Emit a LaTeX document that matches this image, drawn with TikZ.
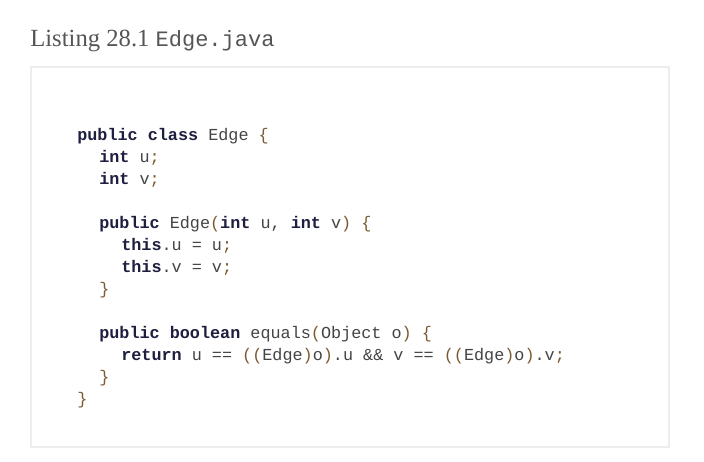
\documentclass[tikz,border=0pt]{standalone}
\usepackage{fontspec}
\setmainfont{Liberation Serif}
\setmonofont{Liberation Mono}
\definecolor{kw}{HTML}{1E1E40}
\definecolor{tx}{HTML}{444444}
\definecolor{pn}{HTML}{7A5A30}
\definecolor{ttl}{HTML}{555555}
\newcommand{\KW}[1]{\textbf{\textcolor{kw}{#1}}}
\newcommand{\PN}[1]{\textcolor{pn}{#1}}
\begin{document}
\begin{tikzpicture}[x=0.75pt,y=-0.75pt,
  code/.style={anchor=base west,inner sep=0pt,font=\ttfamily\fontsize{12.6}{14}\selectfont,text=tx}]
\useasboundingbox (0,0) rectangle (704,461);
\node[anchor=base west,inner sep=0pt,text=ttl] (title) at (30,46)
  {\fontsize{18.5}{21}\selectfont Listing 28.1 {\ttfamily\fontsize{16.5}{20}\selectfont Edge.java}};
\draw[line width=1.5pt,draw=black!7,fill=white] (31,67) rectangle (669,447);
\node[code] (l1) at (77,140) {\KW{public} \KW{class} Edge \PN{\{}};
\node[code] (l2) at (99,162) {\KW{int} u\PN{;}};
\node[code] (l3) at (99,184) {\KW{int} v\PN{;}};
\node[code] (l5) at (99,228) {\KW{public} Edge\PN{(}\KW{int} u, \KW{int} v\PN{)} \PN{\{}};
\node[code] (l6) at (121,250) {\KW{this}.u = u\PN{;}};
\node[code] (l7) at (121,272) {\KW{this}.v = v\PN{;}};
\node[code] (l8) at (99,294) {\PN{\}}};
\node[code] (l10) at (99,338) {\KW{public} \KW{boolean} equals\PN{(}Object o\PN{)} \PN{\{}};
\node[code] (l11) at (121,360) {\KW{return} u == \PN{((}Edge\PN{)}o\PN{)}.u \&\& v == \PN{((}Edge\PN{)}o\PN{)}.v\PN{;}};
\node[code] (l12) at (99,382) {\PN{\}}};
\node[code] (l13) at (77,404) {\PN{\}}};
\end{tikzpicture}
\end{document}
